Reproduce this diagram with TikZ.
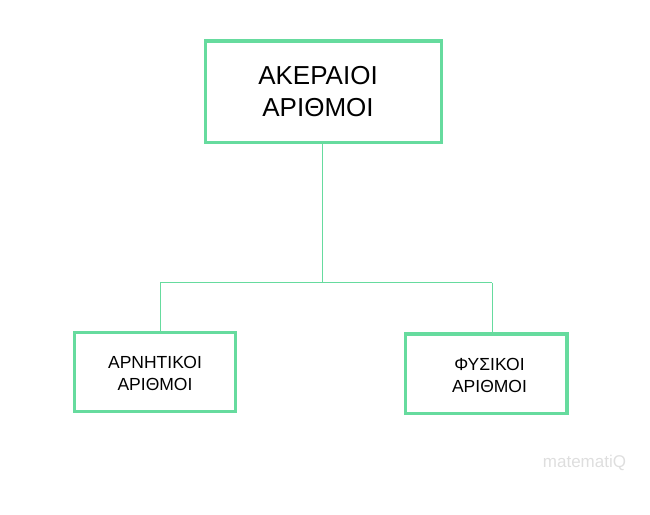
\documentclass[tikz,border=0pt]{standalone}
\usepackage{fontspec}
\setmainfont{Liberation Sans}
\definecolor{mint}{RGB}{102,219,158}
\definecolor{wmgray}{RGB}{222,222,222}
\begin{document}
\begin{tikzpicture}[x=1pt,y=-1pt,
  box/.style={draw=mint, line width=3.5pt, fill=white, inner sep=0pt, outer sep=0pt},
  conn/.style={draw=mint, line width=1pt},
  bigtxt/.style={font=\fontsize{26}{32.5}\selectfont, align=center, inner sep=0pt},
  smalltxt/.style={font=\fontsize{17.5}{22}\selectfont, align=center, inner sep=0pt}]
\useasboundingbox (0,0) rectangle (650,514);
% boxes
\node[box, minimum width=236.4pt, minimum height=101.3pt] (top) at (323.5,91.65) {};
\node[box, minimum width=161pt, minimum height=79.4pt] (left) at (154.8,372) {};
\node[box, minimum width=161.7pt, minimum height=79.7pt] (right) at (486.15,373.85) {};
% texts
\node[bigtxt] (toptxt) at (318,91.5) {ΑΚΕΡΑΙΟΙ\\ΑΡΙΘΜΟΙ};
\node[smalltxt] (lefttxt) at (155,373.5) {ΑΡΝΗΤΙΚΟΙ\\ΑΡΙΘΜΟΙ};
\node[smalltxt] (righttxt) at (489.5,375) {ΦΥΣΙΚΟΙ\\ΑΡΙΘΜΟΙ};
% connectors
\coordinate (jt) at (322,282.7);
\coordinate (jl) at (160.3,282.7);
\coordinate (jr) at (492.3,282.7);
\draw[conn] (jt |- top.south) -- (jt);
\draw[conn] (jl) -- (jr);
\draw[conn] (jl) -- (jl |- left.north);
\draw[conn] (jr) -- (jr |- right.north);
% watermark
\node[font=\fontsize{17}{20}\selectfont, text=wmgray, anchor=base, inner sep=0pt] (wm) at (584.5,467) {matematiQ};
\end{tikzpicture}
\end{document}
